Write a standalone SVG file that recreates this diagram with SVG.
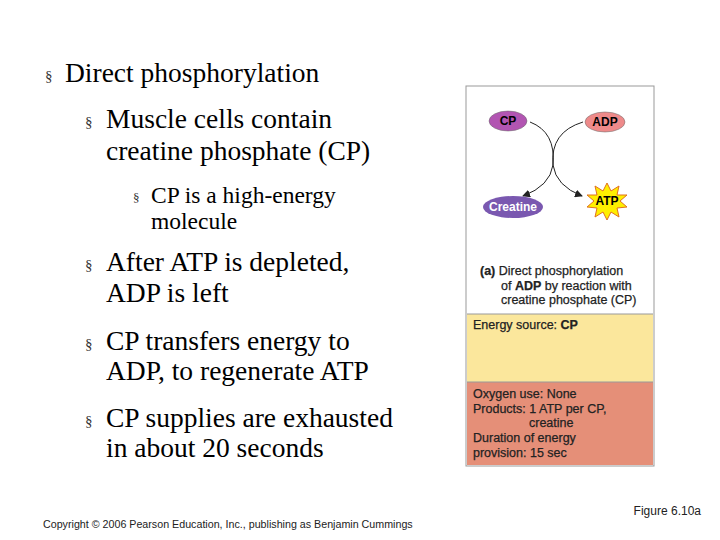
<svg xmlns="http://www.w3.org/2000/svg" width="720" height="540" viewBox="0 0 720 540">
<style>
.t{font-family:"Liberation Serif","Times New Roman",serif;fill:#000}
.b{font-family:"Liberation Serif",serif;fill:#333}
.s{font-family:"Liberation Sans",Arial,sans-serif}
.lbl{font-family:"Liberation Sans",Arial,sans-serif;font-weight:bold;font-size:12px;text-anchor:middle}
.p{font-family:"Liberation Sans",Arial,sans-serif;font-size:12.5px;fill:#222;stroke:#222;stroke-width:0.25}
.c{fill:none;stroke:#222;stroke-width:1;marker-end:url(#ah)}
</style>
<defs><marker id="ah" markerWidth="8" markerHeight="8" refX="7" refY="4" orient="auto" markerUnits="userSpaceOnUse"><path d="M0,0 L8,4 L0,8 Z" fill="#222"/></marker></defs>
<rect width="720" height="540" fill="#fff"/>
<g id="bullets">
<text class="b" x="45" y="81" font-size="15">§</text><text class="t" x="65" y="82" font-size="27.5">Direct phosphorylation</text>
<text class="b" x="85" y="127" font-size="15">§</text><text class="t" x="106" y="128" font-size="27.5">Muscle cells contain</text>
<text class="t" x="106" y="160" font-size="27.5">creatine phosphate (CP)</text>
<text class="b" x="133" y="202" font-size="13">§</text><text class="t" x="151" y="203" font-size="23.5">CP is a high-energy</text>
<text class="t" x="151" y="229" font-size="23.5">molecule</text>
<text class="b" x="85" y="270" font-size="15">§</text><text class="t" x="106" y="271" font-size="27.5">After ATP is depleted,</text>
<text class="t" x="106" y="302" font-size="27.5">ADP is left</text>
<text class="b" x="85" y="349" font-size="15">§</text><text class="t" x="106" y="350" font-size="27.5">CP transfers energy to</text>
<text class="t" x="106" y="380" font-size="27.5">ADP, to regenerate ATP</text>
<text class="b" x="85" y="426" font-size="15">§</text><text class="t" x="106" y="427" font-size="27.5">CP supplies are exhausted</text>
<text class="t" x="106" y="457" font-size="27.5">in about 20 seconds</text>
</g>
<g id="panel">
<rect x="466" y="86" width="188" height="380" fill="#fff" stroke="#999"/>
<rect x="467" y="314" width="186" height="68" fill="#fbe79c"/>
<rect x="467" y="382" width="186" height="83" fill="#e58f78"/>
<line x1="467" y1="314" x2="653" y2="314" stroke="#999"/>
<line x1="467" y1="382" x2="653" y2="382" stroke="#999"/>
</g>
<g id="connectors">
<path class="c" d="M530,122 Q556,132 553,165 Q550,186 523,196"/>
<path class="c" d="M583,122 Q550,132 553,165 Q556,186 582,196"/>
</g>
<g id="cp"><ellipse cx="508" cy="121" rx="19" ry="10" fill="#b255b2" stroke="#666" stroke-width="0.5"/><text class="lbl" x="508" y="125">CP</text></g>
<g id="adp"><ellipse cx="605" cy="122" rx="20" ry="10" fill="#ee8a8a" stroke="#666" stroke-width="0.5"/><text class="lbl" x="605" y="126">ADP</text></g>
<g id="creatine"><ellipse cx="513" cy="207" rx="30" ry="11" fill="#7a58b0"/><text class="lbl" x="513" y="211" fill="#fff">Creatine</text></g>
<g id="atp"><polygon points="607,183 611,191 619,186 617,195 627,195 620,201 627,207 617,208 619,217 611,212 607,220 603,212 595,217 597,208 587,207 594,201 587,195 597,195 595,186 603,191" fill="#ffef00" stroke="#e07020" stroke-width="1"/><text class="lbl" x="607" y="205">ATP</text></g>
<g id="caption">
<text class="p" x="480" y="275"><tspan font-weight="bold">(a)</tspan> Direct phosphorylation</text>
<text class="p" x="501" y="290">of <tspan font-weight="bold">ADP</tspan> by reaction with</text>
<text class="p" x="501" y="304">creatine phosphate (CP)</text>
<text class="p" x="473" y="329">Energy source: <tspan font-weight="bold">CP</tspan></text>
<text class="p" x="473" y="398">Oxygen use: None</text>
<text class="p" x="473" y="413">Products: 1 ATP per CP,</text>
<text class="p" x="529" y="427">creatine</text>
<text class="p" x="473" y="442">Duration of energy</text>
<text class="p" x="473" y="457">provision: 15 sec</text>
</g>
<text class="s" x="701" y="515" font-size="12" text-anchor="end" fill="#222">Figure 6.10a</text>
<text class="s" x="43" y="528" font-size="10.7" fill="#222">Copyright © 2006 Pearson Education, Inc., publishing as Benjamin Cummings</text>
</svg>
